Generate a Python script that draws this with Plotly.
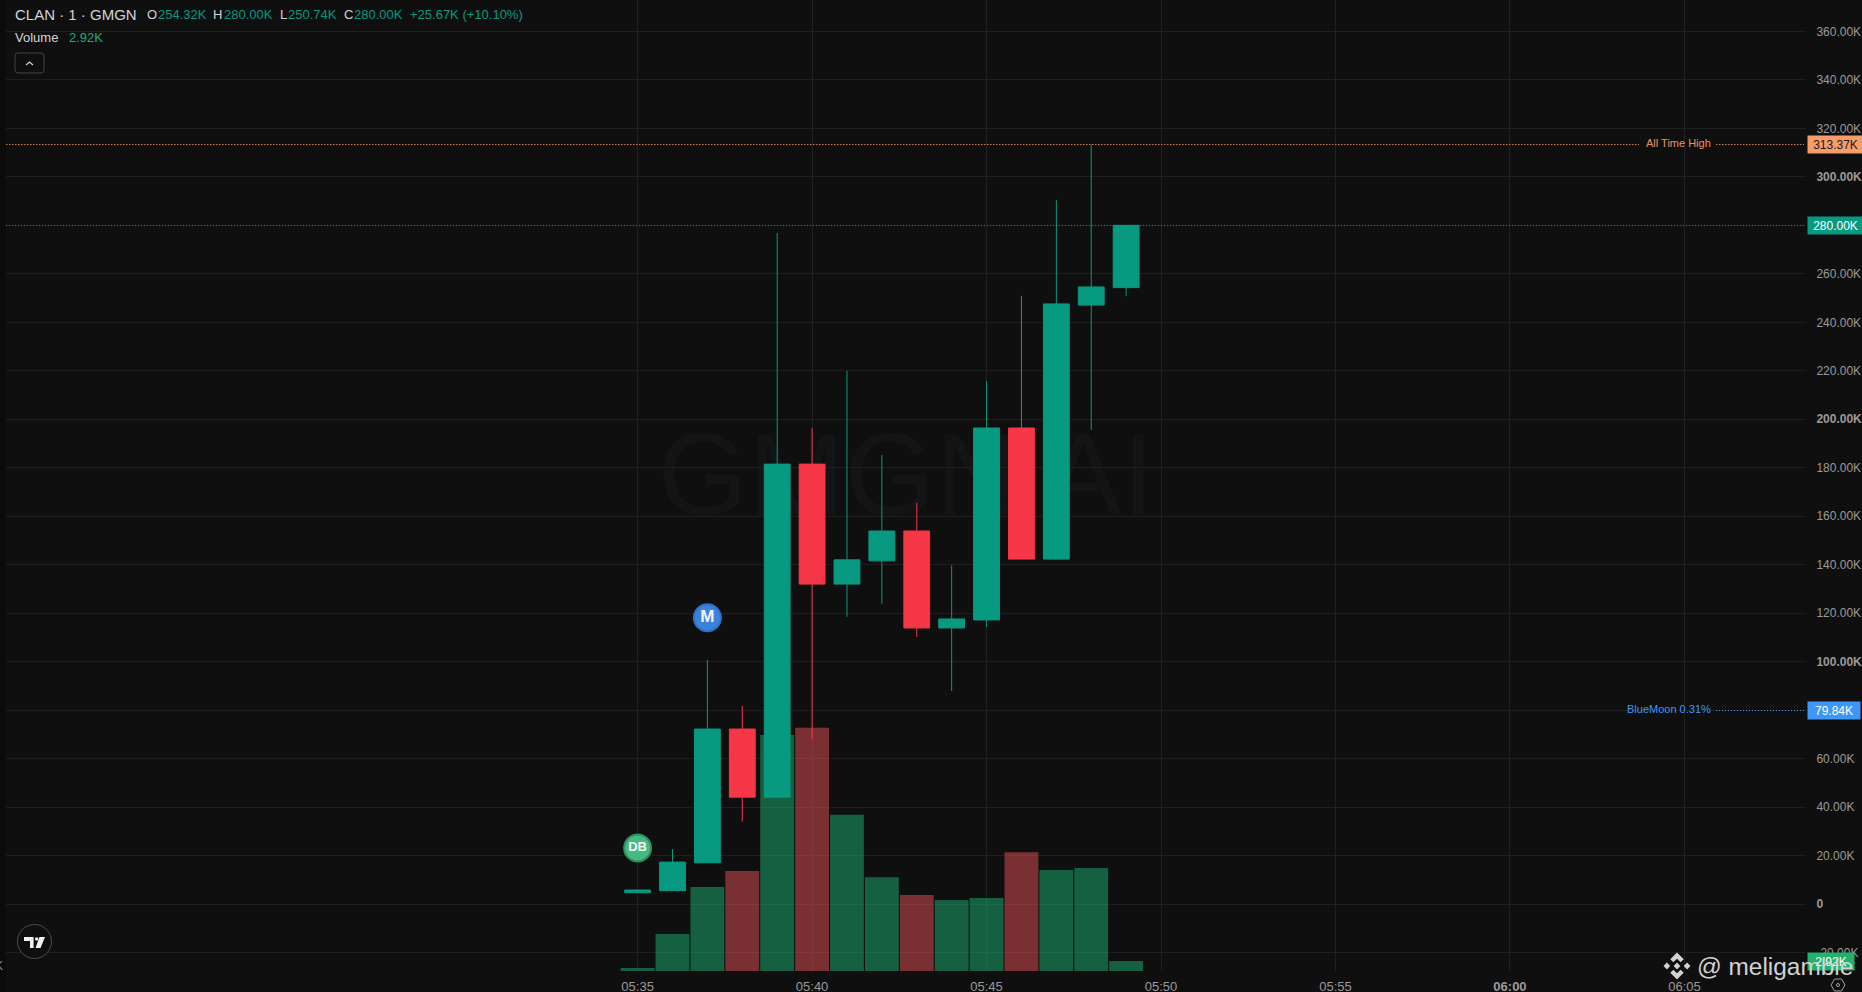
"""Recreate the CLAN / GMGN one-minute candle chart with its volume bars."""

import plotly.graph_objects as go

W, H = 1862, 992
LEFT, RIGHT, BOTTOM = 6, 1806, 971
BG = "#0F0F0F"
UP = "#089981"
DOWN = "#F53748"

times = [f"2025-01-01 05:{m}:00" for m in range(35, 50)]
opens = [4660, 5500, 17000, 72200, 44100, 181500, 132000, 141600, 153900, 113900,
         117200, 196400, 142300, 247100, 254320]
highs = [5780, 22700, 100700, 81700, 276900, 196400, 220000, 185300, 165500, 139700,
         215800, 250900, 290500, 313370, 280000]
lows = [4660, 5500, 17000, 34000, 44100, 68000, 118500, 123800, 110200, 87900,
        114300, 142300, 142300, 195600, 250740]
closes = [5780, 17300, 72200, 44100, 181500, 132000, 142000, 153900, 113900, 117600,
          196400, 142300, 247600, 254600, 280000]
volumes = [880, 10800, 24500, 29200, 68900, 71000, 45600, 27400, 22200, 20700,
           21300, 34700, 29500, 30100, 2920]
volume_up = [True, True, True, False, True, False, True, True, False, True,
             True, False, True, True, True]

price_ticks = [-20000, 0, 20000, 40000, 60000, 80000, 100000, 120000, 140000, 160000,
               180000, 200000, 220000, 240000, 260000, 280000, 300000, 320000, 340000, 360000]
bold_prices = [100000, 200000, 300000]
time_ticks = ["05:35", "05:40", "05:45", "05:50", "05:55", "06:00", "06:05"]
bold_times = ["06:00"]

ath_price = 313370
last_price = 280000
bluemoon_price = 79840
last_volume = 2920

signal_times = ["2025-01-01 05:35:00", "2025-01-01 05:37:00"]
signal_prices = [23100, 118100]
signal_labels = ["DB", "M"]
signal_sizes = [13, 17]
signal_fill = ["#45B97F", "#3B82DC"]
signal_edge = ["#2A8F58", "#2F6FC8"]


def px(x):
    return (x - LEFT) / (RIGHT - LEFT)


def py(y):
    return (BOTTOM - y) / BOTTOM


def path_shape(path, **kw):
    return {"type": "path", "path": path, "xref": "paper", "yref": "paper", **kw}


def poly(points):
    return "M" + " L".join(f"{px(x):.5f},{py(y):.5f}" for x, y in points) + " Z"


def chrome_text(x, y, text, color, size=13):
    # annotations carry 2px of padding, taken off so x is where the glyphs start
    return {
        "xref": "paper", "yref": "paper", "x": px(x - 2), "y": py(y),
        "xanchor": "left", "yanchor": "middle", "showarrow": False,
        "text": text, "font": {"color": color, "size": size},
    }


def price_tag(text, yref, value, fill, color, width):
    return {
        "xref": "paper", "yref": yref, "x": 1, "y": value, "xshift": 1,
        "xanchor": "left", "yanchor": "middle", "showarrow": False,
        "text": text, "width": width, "height": 17, "align": "center",
        "bgcolor": fill, "borderpad": 0, "font": {"color": color, "size": 12},
    }


def price_line(value, color, dash, x0=LEFT, x1=RIGHT):
    return {
        "type": "line", "xref": "paper", "yref": "y2", "x0": px(x0), "x1": px(x1),
        "y0": value, "y1": value, "layer": "above",
        "line": {"color": color, "width": 1, "dash": dash},
    }


fig = go.Figure()
fig.add_bar(
    x=times,
    y=volumes,
    yaxis="y",
    marker={
        "color": ["rgba(29,177,117,0.5)" if up else "rgba(229,81,87,0.5)" for up in volume_up],
        "line": {"width": 0},
    },
    hoverinfo="skip",
)
fig.add_candlestick(
    x=times,
    open=opens,
    high=highs,
    low=lows,
    close=closes,
    yaxis="y2",
    whiskerwidth=0,
    increasing={"line": {"color": UP, "width": 1}, "fillcolor": UP},
    decreasing={"line": {"color": DOWN, "width": 1}, "fillcolor": DOWN},
)
fig.add_scatter(
    x=signal_times,
    y=signal_prices,
    yaxis="y2",
    mode="markers+text",
    text=signal_labels,
    textposition="middle center",
    textfont={"color": "#F2F6FA", "size": signal_sizes, "family": "Liberation Sans", "weight": "bold"},
    marker={"size": 27, "color": signal_fill, "line": {"color": signal_edge, "width": 2}},
    hoverinfo="skip",
)

shapes = [
    {"type": "rect", "xref": "paper", "yref": "paper", "x0": px(0), "x1": px(LEFT),
     "y0": py(H), "y1": py(0), "fillcolor": "#0B0B0B", "line": {"width": 0}, "layer": "below"},
    {"type": "rect", "xref": "paper", "yref": "paper", "x0": px(653), "x1": px(1159),
     "y0": py(522), "y1": py(406), "fillcolor": "rgba(0,0,0,0)", "line": {"width": 0},
     "layer": "below",
     "label": {"text": "GMGN AI", "textposition": "middle center",
               "font": {"size": 116, "color": "#131416", "family": "Liberation Sans"}}},
    price_line(ath_price, "#C87A55", "1.5px,1.5px", LEFT, 1639),
    price_line(ath_price, "#C87A55", "1.5px,1.5px", 1716, 1804),
    price_line(last_price, UP, "1px,2px"),
    price_line(bluemoon_price, "#3F96F9", "1px,2px", 1716, 1804),
    # collapse button
    path_shape(
        f"M{px(18):.5f},{py(53):.5f} L{px(41):.5f},{py(53):.5f} "
        f"Q{px(44):.5f},{py(53):.5f} {px(44):.5f},{py(56):.5f} L{px(44):.5f},{py(70):.5f} "
        f"Q{px(44):.5f},{py(73):.5f} {px(41):.5f},{py(73):.5f} L{px(18):.5f},{py(73):.5f} "
        f"Q{px(15):.5f},{py(73):.5f} {px(15):.5f},{py(70):.5f} L{px(15):.5f},{py(56):.5f} "
        f"Q{px(15):.5f},{py(53):.5f} {px(18):.5f},{py(53):.5f} Z",
        line={"color": "#444444", "width": 1},
    ),
    path_shape(
        f"M{px(26):.5f},{py(65):.5f} L{px(29.5):.5f},{py(62):.5f} L{px(33):.5f},{py(65):.5f}",
        line={"color": "#D0D0D0", "width": 1.2},
    ),
    # TradingView badge
    {"type": "circle", "xref": "paper", "yref": "paper", "x0": px(17.5), "x1": px(51.5),
     "y0": py(958.5), "y1": py(924.5), "fillcolor": BG, "line": {"color": "#4A4A4A", "width": 1}},
    path_shape(poly([(24, 937), (33.6, 937), (33.6, 948), (30, 948), (30, 941), (24, 941)]),
               fillcolor="#F2F2F2", line={"width": 0}),
    {"type": "circle", "xref": "paper", "yref": "paper", "x0": px(35), "x1": px(38.4),
     "y0": py(940.7), "y1": py(937.3), "fillcolor": "#F2F2F2", "line": {"width": 0}},
    path_shape(poly([(39.5, 937), (45, 937), (40.5, 948), (35.5, 948)]),
               fillcolor="#F2F2F2", line={"width": 0}),
    # settings hexagon
    path_shape(poly([(1831, 985), (1834.5, 979), (1841.5, 979), (1845, 985), (1841.5, 991), (1834.5, 991)]),
               line={"color": "#A0A0A0", "width": 1}),
    {"type": "circle", "xref": "paper", "yref": "paper", "x0": px(1836.5), "x1": px(1839.5),
     "y0": py(986.5), "y1": py(983.5), "line": {"color": "#A0A0A0", "width": 1}},
]

# Binance style mark next to the author's tag
MARK_X, MARK_Y, MARK_R = 1677, 966, 13.5
mark_parts = [
    [(0, -0.25), (0.25, 0), (0, 0.25), (-0.25, 0)],
    [(-0.75, -0.25), (-0.5, 0), (-0.75, 0.25), (-1, 0)],
    [(0.75, -0.25), (1, 0), (0.75, 0.25), (0.5, 0)],
    [(0, -1), (0.5, -0.5), (0.27, -0.27), (0, -0.54), (-0.27, -0.27), (-0.5, -0.5)],
    [(0, 1), (0.5, 0.5), (0.27, 0.27), (0, 0.54), (-0.27, 0.27), (-0.5, 0.5)],
]
for part in mark_parts:
    shapes.append(path_shape(
        poly([(MARK_X + a * MARK_R, MARK_Y + b * MARK_R) for a, b in part]),
        fillcolor="#D2D2D2", line={"width": 0},
    ))

annotations = [
    chrome_text(15, 15, "CLAN · 1 · GMGN", "#D1D4DC", 15),
    chrome_text(147, 15, "O", "#D1D4DC"),
    chrome_text(158, 15, "254.32K", UP),
    chrome_text(213, 15, "H", "#D1D4DC"),
    chrome_text(224, 15, "280.00K", UP),
    chrome_text(280, 15, "L", "#D1D4DC"),
    chrome_text(288, 15, "250.74K", UP),
    chrome_text(344, 15, "C", "#D1D4DC"),
    chrome_text(354, 15, "280.00K", UP),
    chrome_text(410, 15, "+25.67K (+10.10%)", UP),
    chrome_text(15, 38, "Volume", "#D1D4DC"),
    chrome_text(69, 38, "2.92K", "#22AB6F"),
    chrome_text(1646, 143, "All Time High", "#EE8F63", 11),
    chrome_text(1627, 709, "BlueMoon 0.31%", "#3F96F9", 11),
    chrome_text(-5, 966, "K", "#8A8A8A", 12),
    price_tag("313.37K", "y2", ath_price, "#F79C6B", "#1A1A1A", 55),
    price_tag("280.00K", "y2", last_price, UP, "#FFFFFF", 55),
    price_tag("79.84K", "y2", bluemoon_price, "#3F96F9", "#FFFFFF", 52),
    price_tag("2.92K", "y", last_volume, "#23B26D", "#FFFFFF", 46),
    chrome_text(1697, 966, "@ meligamble", "#D2D2D2", 24.4),
]

fig.update_layout(
    width=W,
    height=H,
    margin={"l": LEFT, "r": W - RIGHT, "t": 0, "b": H - BOTTOM, "pad": 0},
    paper_bgcolor=BG,
    plot_bgcolor=BG,
    showlegend=False,
    barmode="overlay",
    bargap=0.03,
    boxgap=0.26,
    boxgroupgap=0,
    font={"family": "Liberation Sans", "size": 12},
    shapes=shapes,
    annotations=annotations,
    xaxis={
        "type": "date",
        "automargin": False,
        "range": ["2025-01-01 05:16:54", "2025-01-01 06:08:29"],
        "rangeslider": {"visible": False},
        "tickmode": "array",
        "tickvals": [f"2025-01-01 {t}:00" for t in time_ticks],
        "ticktext": [f"<b>{t}</b>" if t in bold_times else t for t in time_ticks],
        "showgrid": True,
        "gridcolor": "#212121",
        "gridwidth": 1,
        "zeroline": False,
        "showline": False,
        "ticks": "outside",
        "ticklen": 3,
        "tickcolor": BG,
        "tickfont": {"color": "#9A9A9A", "size": 13},
    },
    yaxis={
        "range": [0, 283500],
        "visible": False,
        "automargin": False,
        "fixedrange": True,
    },
    yaxis2={
        "overlaying": "y",
        "side": "right",
        "anchor": "x",
        "automargin": False,
        "range": [-27640, 372990],
        "tickmode": "array",
        "tickvals": price_ticks,
        "ticktext": [
            "<b>0</b>" if v == 0 else
            f"<b>{v / 1000:.2f}K</b>" if v in bold_prices else f"{v / 1000:.2f}K"
            for v in price_ticks
        ],
        "showgrid": True,
        "gridcolor": "#1E1E1E",
        "gridwidth": 1,
        "zeroline": False,
        "showline": False,
        "ticks": "outside",
        "ticklen": 7,
        "tickcolor": BG,
        "tickfont": {"color": "#9A9A9A", "size": 12},
    },
)

fig.write_html(
    "out.html",
    config={"displayModeBar": False},
    post_script="document.body.style.margin='0';",
)
